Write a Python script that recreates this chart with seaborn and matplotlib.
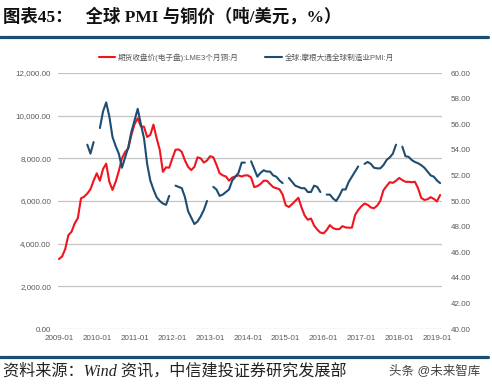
import numpy as np
import pandas as pd
import matplotlib
matplotlib.use("Agg")
import matplotlib.pyplot as plt
from matplotlib.lines import Line2D
from matplotlib.ticker import FuncFormatter
import seaborn as sns

nan = np.nan

# monthly, 2009-01 .. 2019-02
tick_labels = ["2009-01", "2010-01", "2011-01", "2012-01", "2013-01", "2014-01",
               "2015-01", "2016-01", "2017-01", "2018-01", "2019-01"]

copper = [
    3280, 3400, 3750, 4400, 4560, 4950, 5200, 6125, 6200, 6350, 6550, 6950,   # 2009
    7300, 6950, 7500, 7750, 6900, 6520, 6900, 7400, 8000, 8300, 8450, 9100,   # 2010
    9600, 9880, 9500, 9480, 9000, 9100, 9580, 8950, 8400, 7370, 7580, 7560,   # 2011
    8000, 8400, 8420, 8300, 7900, 7600, 7450, 7600, 8050, 8000, 7800, 7900,   # 2012
    8100, 8050, 7700, 7300, 7200, 7150, 6950, 7100, 7150, 7200, 7150, 7200,   # 2013
    7200, 7100, 6650, 6700, 6800, 6950, 6950, 6800, 6650, 6600, 6550, 6300,   # 2014
    5800, 5720, 5850, 6000, 6150, 5700, 5320, 5120, 5180, 4850, 4660, 4520,   # 2015
    4480, 4640, 4870, 4730, 4680, 4680, 4820, 4760, 4750, 4750, 5340, 5580,   # 2016
    5750, 5880, 5820, 5700, 5660, 5780, 6000, 6500, 6700, 6880, 6850, 6950,   # 2017
    7080, 6980, 6900, 6900, 6880, 6900, 6600, 6150, 6050, 6080, 6180, 6100,   # 2018
    5980, 6280,                                                               # 2019
]

pmi = [
    nan, nan, nan, nan, nan, nan, nan, nan, nan, 54.4, 53.7, 54.6,
    nan, 55.7, 57.0, 57.7, 56.6, 55.0, 54.3, 53.7, 52.6, 53.4, 54.2, 55.4,
    56.3, 57.2, 56.0, 54.9, 52.9, 51.6, 50.9, 50.3, 50.0, 49.8, 49.7, 50.4,
    nan, 51.2, 51.1, 51.0, 50.3, 49.2, 48.7, 48.2, 48.4, 48.8, 49.3, 50.0,
    nan, 51.1, 50.9, 50.4, 50.5, 50.7, 50.9, 51.6, 51.9, 52.2, 53.0, 53.0,
    nan, 53.1, 52.5, 51.9, 52.2, 52.4, 52.3, 52.3, 52.0, 51.9, 51.6, 51.4,
    nan, 51.8, 51.5, 51.2, 51.1, 51.0, 51.0, 50.7, 50.7, 51.2, 51.1, 50.7,
    nan, 50.5, 50.5, 50.2, 50.0, 50.4, 50.9, 50.9, 51.5, 51.9, 52.3, 52.7,
    nan, 52.9, 53.05, 52.9, 52.6, 52.55, 52.55, 52.8, 53.2, 53.4, 53.7, 54.4,
    nan, 54.25, 53.5, 53.45, 53.2, 53.05, 52.95, 52.8, 52.6, 52.3, 52.0, 51.9,
    51.6, 51.4,
]

copper_label = "期货收盘价(电子盘):LME3个月铜:月"
pmi_label = "全球:摩根大通全球制造业PMI:月"

RED = "#f0141e"
BLUE = "#1d4d73"
GRID = "#c4c4c4"
TICK = "#595959"

sns.set_style("white")
plt.rcParams["font.family"] = ["Liberation Sans", "Noto Sans CJK SC"]

df = pd.DataFrame({"month": np.arange(len(copper)), "copper": copper, "pmi": pmi})
df["seg"] = df["pmi"].isna().cumsum()
pm = df.dropna(subset=["pmi"])

fig = plt.figure(figsize=(4.92, 3.89), dpi=100)
ax = fig.add_axes([58 / 492, 60 / 389, 384 / 492, 256 / 389])
ax2 = ax.twinx()

sns.lineplot(data=df, x="month", y="copper", ax=ax, color=RED, lw=1.5, legend=False)
sns.lineplot(data=pm, x="month", y="pmi", units="seg", estimator=None, ax=ax2,
             color=BLUE, lw=1.5, legend=False)

ax.set_xlim(-0.3, 121.6)
ax.set_ylim(0, 12000)
ax.set_yticks(range(0, 12001, 2000))
ax.yaxis.set_major_formatter(FuncFormatter(lambda v, p: f"{v:,.2f}"))
ax2.set_ylim(40, 60)
ax2.set_yticks(range(40, 61, 2))
ax2.yaxis.set_major_formatter(FuncFormatter(lambda v, p: f"{v:.2f}"))
ax.set_xticks(range(0, 121, 12))
ax.set_xticklabels(tick_labels)

for a in (ax, ax2):
    a.set_xlabel("")
    a.set_ylabel("")
    for s in a.spines.values():
        s.set_visible(False)
    a.tick_params(length=0, labelsize=5.8, labelcolor=TICK)
ax.tick_params(axis="y", pad=5)
ax2.tick_params(axis="y", pad=6)
ax.tick_params(axis="x", pad=4)
ax.yaxis.grid(True, color=GRID, lw=0.9)
ax2.grid(False)

handles = [Line2D([], [], color=RED, lw=1.5), Line2D([], [], color=BLUE, lw=1.5)]
ax2.legend(handles, [copper_label, pmi_label], ncol=2, loc="center",
           bbox_to_anchor=(0.49, 1.06), frameon=False, fontsize=5.5,
           handlelength=2.2, handletextpad=0.3, columnspacing=3.5,
           labelcolor=TICK)

fig.text(0.006, 1 - 17 / 389, "图表45：   全球 PMI 与铜价（吨/美元，%）",
         family=["Liberation Serif", "Noto Sans CJK SC"], fontweight="bold",
         fontsize=12.5, va="center", ha="left", color="#111111")
fig.add_artist(Line2D([0, 0.992], [1 - 36.5 / 389] * 2, color="#1b4e72", lw=2.3))
fig.add_artist(Line2D([0, 0.992], [1 - 356.5 / 389] * 2, color="#1b4e72", lw=2.3))
fig.text(0.006, 1 - 372 / 389, "资料来源：Wind 资讯，中信建投证券研究发展部",
         family=["Liberation Serif", "Noto Sans CJK SC"], style="italic",
         fontsize=11.6, va="center", ha="left", color="#222222")
fig.text(0.79, 1 - 371 / 389, "头条 @未来智库", fontsize=9, va="center",
         ha="left", color="#444444")

fig.savefig("out.png", dpi=100)
